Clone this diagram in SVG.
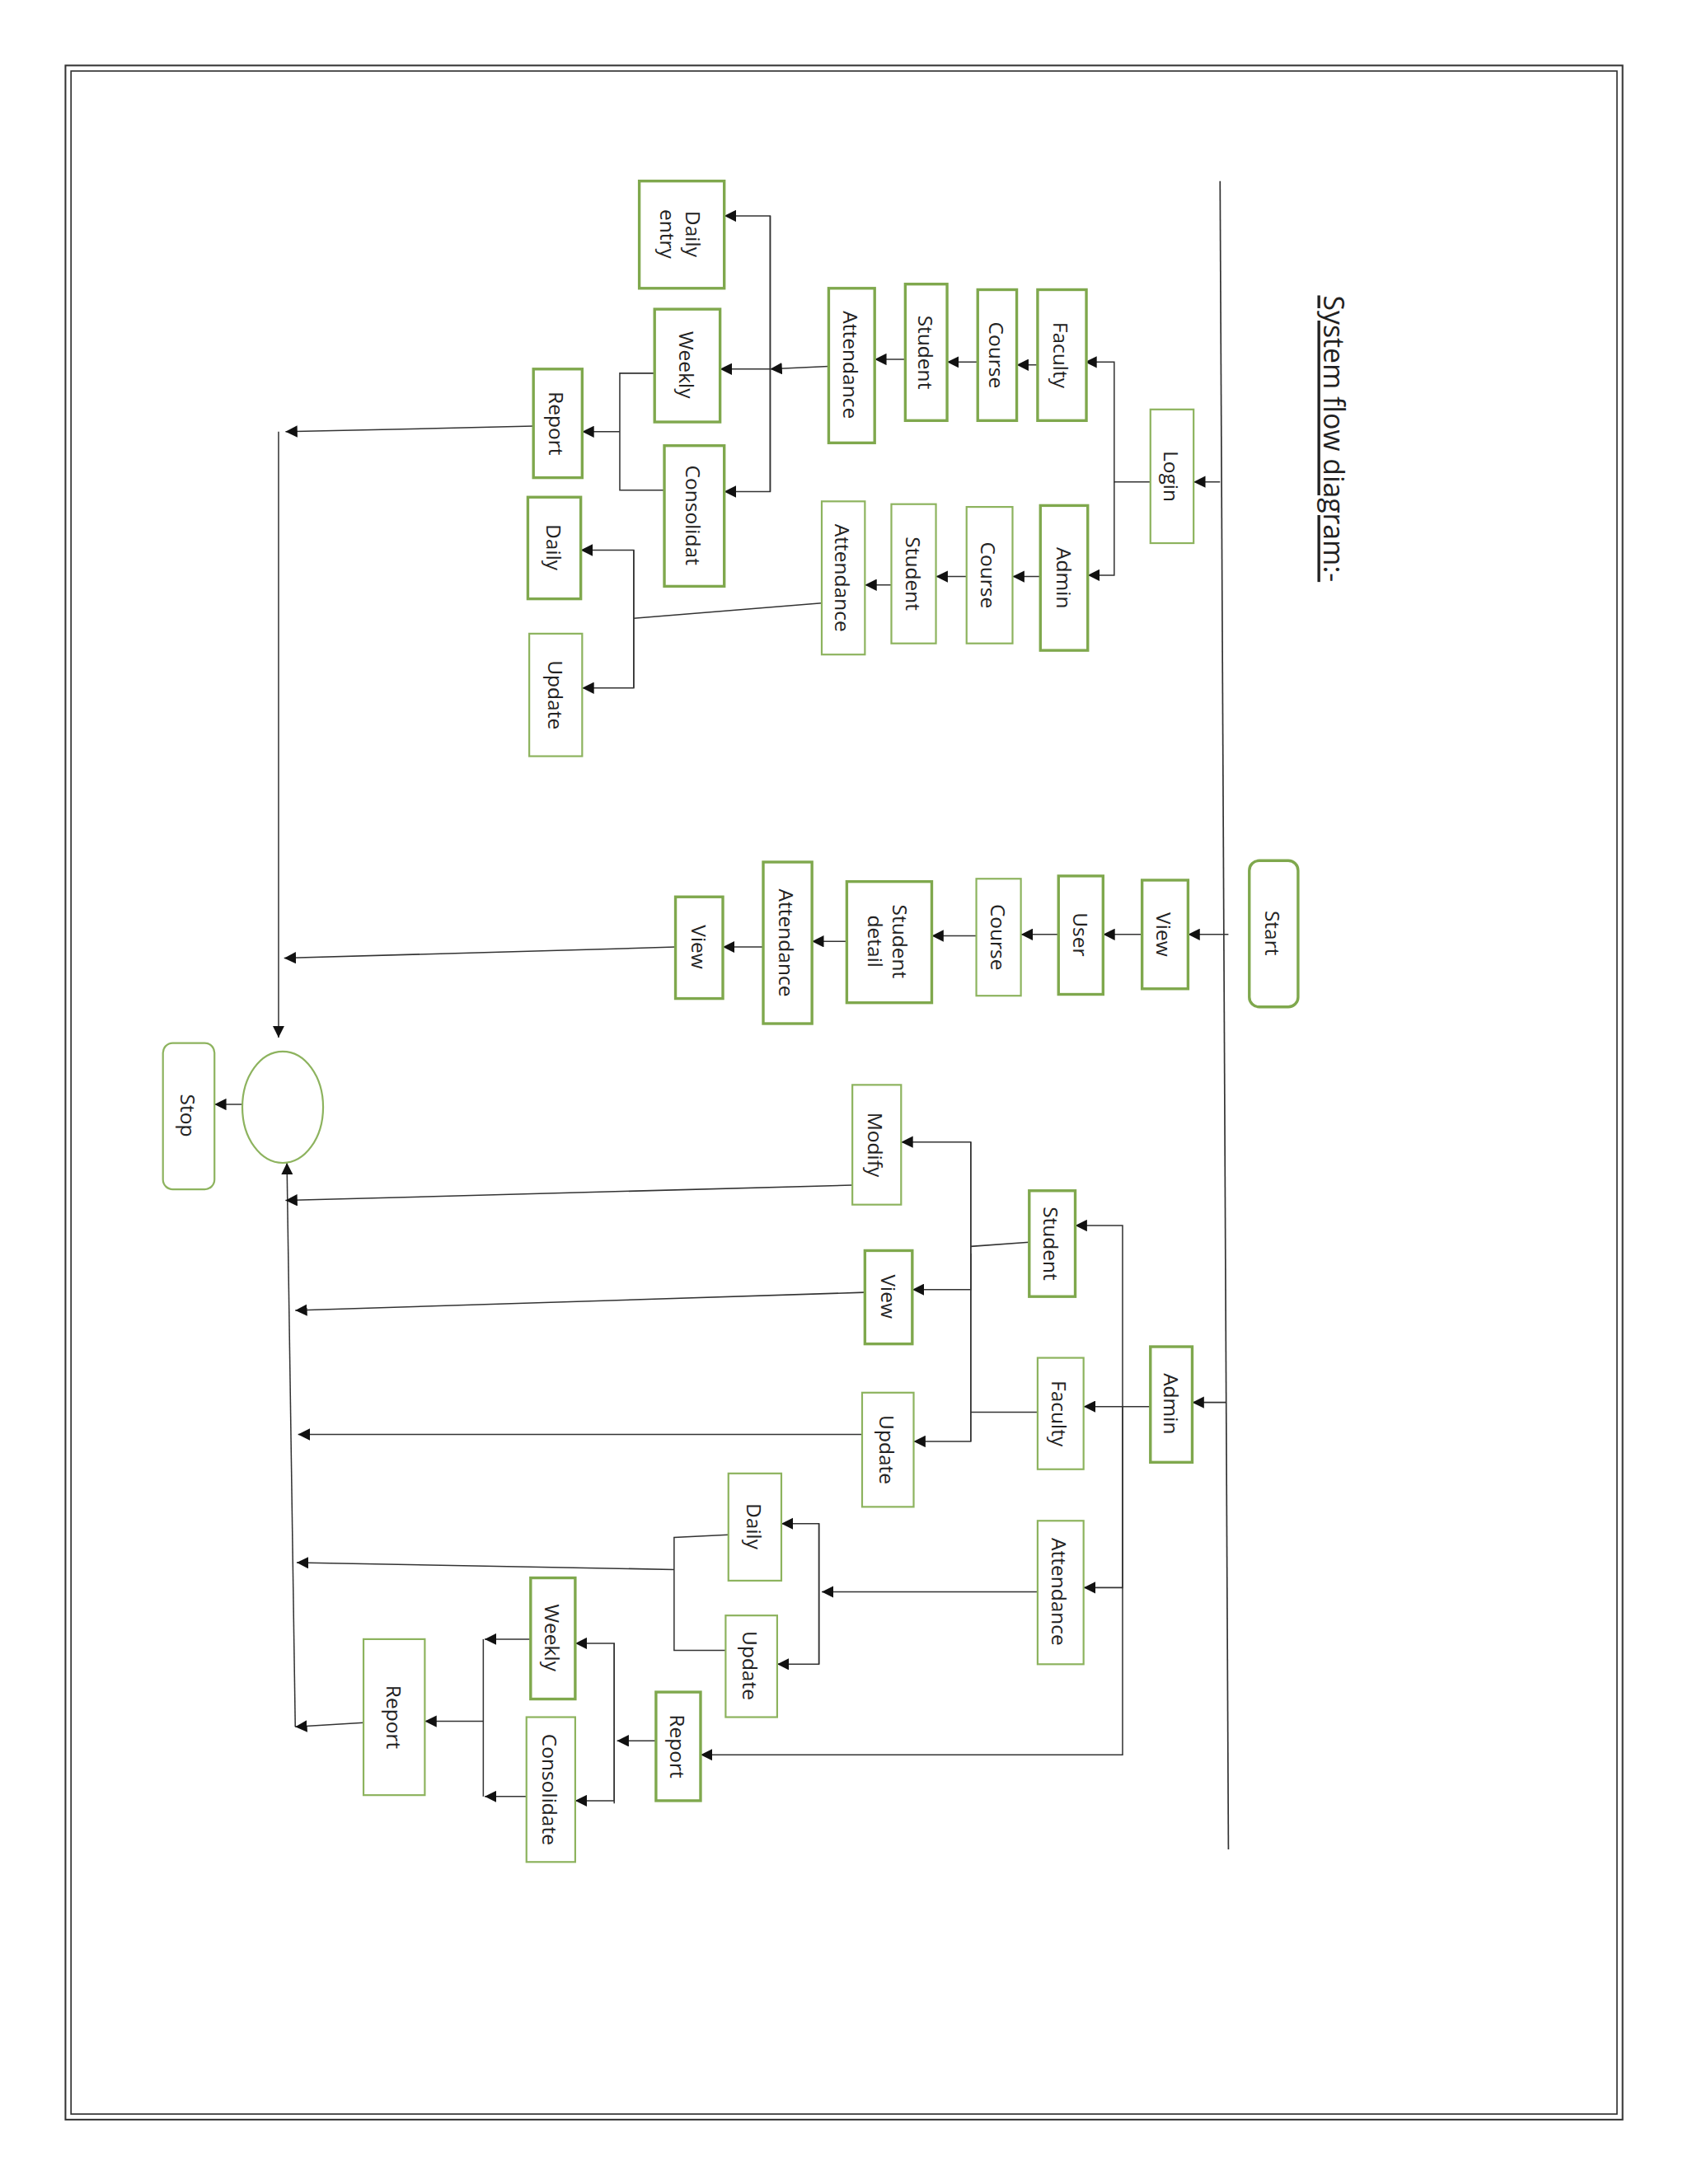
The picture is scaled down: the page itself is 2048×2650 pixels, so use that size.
<svg xmlns="http://www.w3.org/2000/svg" width="2048" height="2650" viewBox="0 0 2048 2650">
<style>
.b{fill:#fff;stroke:#8db35e;stroke-width:1.3}
.bt{fill:#fff;stroke:#7fa84d;stroke-width:2}
.t{font-family:"Open Sans","DejaVu Sans",sans-serif;font-size:14.5px;fill:#222;text-anchor:middle;dominant-baseline:central}
.c{fill:none;stroke:#333;stroke-width:0.9}
</style>
<defs>
<marker id="a" viewBox="0 0 10 10" refX="10" refY="5" markerWidth="8.5" markerHeight="8.5" markerUnits="userSpaceOnUse" orient="auto"><path d="M0,0L10,5L0,10z" fill="#111"/></marker>
</defs>
<rect width="2048" height="2650" fill="#fff"/>
<g transform="scale(1.6898)">
<rect x="47" y="47" width="1118" height="1475" fill="none" stroke="#333" stroke-width="1.2"/>
<rect x="51" y="51" width="1110" height="1467" fill="none" stroke="#333" stroke-width="1"/>
<text class="t" transform="translate(958,315) rotate(90)" style="font-size:20px;text-decoration:underline">System flow diagram:-</text>
<line x1="876" y1="130" x2="882" y2="1328" stroke="#333" stroke-width="1"/>

<g class="c" marker-end="url(#a)">
<path d="M876,346H857"/>
<path d="M826,346H800V260H779" /><path d="M800,346V413H781"/>
<path d="M745,262H730"/><path d="M702,260H680"/><path d="M650,258H628"/>
<path d="M595,263L553,265"/><path d="M553,265H517"/>
<path d="M553,265V155H520"/><path d="M553,265V353H520"/>
<path d="M445,310H418"/>
<path d="M383,306L205,310"/>
<path d="M747,414H727"/><path d="M694,414H672"/><path d="M640,420H621"/>
<path d="M455,444V395H417"/><path d="M455,444V494H418"/>
<path d="M882,671H853"/><path d="M820,671H792"/><path d="M760,671H733"/><path d="M701,672H669"/><path d="M608,676H583"/><path d="M548,680H519"/>
<path d="M485,680L204,688"/>
<path d="M200,310V745"/>
<path d="M174,793H154"/>
<path d="M212,1240L206,835"/>
<path d="M880,1007H856"/>
<path d="M826,1010H778"/>
<path d="M806,1010V880H772"/><path d="M806,1010V1140H778"/><path d="M806,1010V1260H503"/>
<path d="M697,900V820H647"/><path d="M697,900V926H655"/><path d="M697,900V1035H656"/>
<path d="M612,851L205,862"/><path d="M621,928L212,941"/><path d="M619,1030H214"/>
<path d="M745,1143L590,1143"/>
<path d="M588,1143V1094H561"/><path d="M588,1143V1195H558"/>
<path d="M484,1127L213,1122"/>
<path d="M471,1250H443"/>
<path d="M441,1240V1180H413"/><path d="M441,1240V1293H413"/>
<path d="M381,1177H348"/><path d="M378,1290H348"/>
<path d="M347,1236H305"/>
<path d="M261,1237L212,1240"/>
</g>
<g class="c">
<path d="M553,155V353"/>
<path d="M470,268H445V352H477"/>
<path d="M590,433L455,444"/><path d="M455,395V494"/>
<path d="M739,892L697,895"/><path d="M745,1014H697"/><path d="M697,820V1035"/>
<path d="M588,1094V1195"/>
<path d="M523,1102L484,1104V1185H521"/>
<path d="M441,1180V1295"/>
<path d="M347,1177V1290"/>
</g>

<g id="login"><rect class="b" x="826" y="294" width="31" height="96"/><text class="t" transform="translate(841,342) rotate(90)">Login</text></g>
<g id="faculty1"><rect class="bt" x="745" y="208" width="35" height="94"/><text class="t" transform="translate(762,255) rotate(90)">Faculty</text></g>
<g id="course1"><rect class="bt" x="702" y="208" width="28" height="94"/><text class="t" transform="translate(716,255) rotate(90)">Course</text></g>
<g id="student1"><rect class="bt" x="650" y="204" width="30" height="98"/><text class="t" transform="translate(665,253) rotate(90)">Student</text></g>
<g id="attendance1"><rect class="bt" x="595" y="207" width="33" height="111"/><text class="t" transform="translate(611,262) rotate(90)">Attendance</text></g>
<g id="dailyentry"><rect class="bt" x="459" y="130" width="61" height="77"/><text class="t" transform="translate(489,168) rotate(90)"><tspan x="0" dy="-9">Daily</tspan><tspan x="0" dy="18">entry</tspan></text></g>
<g id="weekly1"><rect class="bt" x="470" y="222" width="47" height="81"/><text class="t" transform="translate(493,262) rotate(90)">Weekly</text></g>
<g id="consolidat"><rect class="bt" x="477" y="320" width="43" height="101"/><text class="t" transform="translate(498,370) rotate(90)">Consolidat</text></g>
<g id="report1"><rect class="bt" x="383" y="265" width="35" height="78"/><text class="t" transform="translate(400,304) rotate(90)">Report</text></g>
<g id="admin1"><rect class="bt" x="747" y="363" width="34" height="104"/><text class="t" transform="translate(764,415) rotate(90)">Admin</text></g>
<g id="course2"><rect class="b" x="694" y="364" width="33" height="98"/><text class="t" transform="translate(710,413) rotate(90)">Course</text></g>
<g id="student2"><rect class="b" x="640" y="362" width="32" height="100"/><text class="t" transform="translate(656,412) rotate(90)">Student</text></g>
<g id="attendance2"><rect class="b" x="590" y="360" width="31" height="110"/><text class="t" transform="translate(605,415) rotate(90)">Attendance</text></g>
<g id="daily1"><rect class="bt" x="379" y="357" width="38" height="73"/><text class="t" transform="translate(398,393) rotate(90)">Daily</text></g>
<g id="update1"><rect class="b" x="380" y="455" width="38" height="88"/><text class="t" transform="translate(399,499) rotate(90)">Update</text></g>

<g id="start"><rect class="bt" x="897" y="618" width="35" height="105" rx="7"/><text class="t" transform="translate(914,670) rotate(90)">Start</text></g>
<g id="view1"><rect class="bt" x="820" y="632" width="33" height="78"/><text class="t" transform="translate(836,671) rotate(90)">View</text></g>
<g id="user"><rect class="bt" x="760" y="629" width="32" height="85"/><text class="t" transform="translate(776,671) rotate(90)">User</text></g>
<g id="course3"><rect class="b" x="701" y="631" width="32" height="84"/><text class="t" transform="translate(717,673) rotate(90)">Course</text></g>
<g id="studentdetail"><rect class="bt" x="608" y="633" width="61" height="87"/><text class="t" transform="translate(638,676) rotate(90)"><tspan x="0" dy="-9">Student</tspan><tspan x="0" dy="18">detail</tspan></text></g>
<g id="attendance3"><rect class="bt" x="548" y="619" width="35" height="116"/><text class="t" transform="translate(565,677) rotate(90)">Attendance</text></g>
<g id="view2"><rect class="bt" x="485" y="644" width="34" height="73"/><text class="t" transform="translate(502,680) rotate(90)">View</text></g>

<g id="merge"><ellipse cx="203" cy="795" rx="29" ry="40" fill="#fff" stroke="#8db35e" stroke-width="1.3"/></g>
<g id="stop"><rect class="b" x="117" y="749" width="37" height="105" rx="7"/><text class="t" transform="translate(135,801) rotate(90)">Stop</text></g>

<g id="admin2"><rect class="bt" x="826" y="967" width="30" height="83"/><text class="t" transform="translate(841,1008) rotate(90)">Admin</text></g>
<g id="student3"><rect class="bt" x="739" y="855" width="33" height="76"/><text class="t" transform="translate(755,893) rotate(90)">Student</text></g>
<g id="faculty2"><rect class="b" x="745" y="975" width="33" height="80"/><text class="t" transform="translate(761,1015) rotate(90)">Faculty</text></g>
<g id="attendance4"><rect class="b" x="745" y="1092" width="33" height="103"/><text class="t" transform="translate(761,1143) rotate(90)">Attendance</text></g>
<g id="modify"><rect class="b" x="612" y="779" width="35" height="86"/><text class="t" transform="translate(629,822) rotate(90)">Modify</text></g>
<g id="view3"><rect class="bt" x="621" y="898" width="34" height="67"/><text class="t" transform="translate(638,931) rotate(90)">View</text></g>
<g id="update2"><rect class="b" x="619" y="1000" width="37" height="82"/><text class="t" transform="translate(637,1041) rotate(90)">Update</text></g>
<g id="daily2"><rect class="b" x="523" y="1058" width="38" height="77"/><text class="t" transform="translate(542,1096) rotate(90)">Daily</text></g>
<g id="update3"><rect class="b" x="521" y="1160" width="37" height="73"/><text class="t" transform="translate(539,1196) rotate(90)">Update</text></g>
<g id="report2"><rect class="bt" x="471" y="1215" width="32" height="78"/><text class="t" transform="translate(487,1254) rotate(90)">Report</text></g>
<g id="weekly2"><rect class="bt" x="381" y="1133" width="32" height="87"/><text class="t" transform="translate(397,1176) rotate(90)">Weekly</text></g>
<g id="consolidate"><rect class="b" x="378" y="1233" width="35" height="104"/><text class="t" transform="translate(395,1285) rotate(90)">Consolidate</text></g>
<g id="report3"><rect class="b" x="261" y="1177" width="44" height="112"/><text class="t" transform="translate(283,1233) rotate(90)">Report</text></g>
</g>
</svg>
